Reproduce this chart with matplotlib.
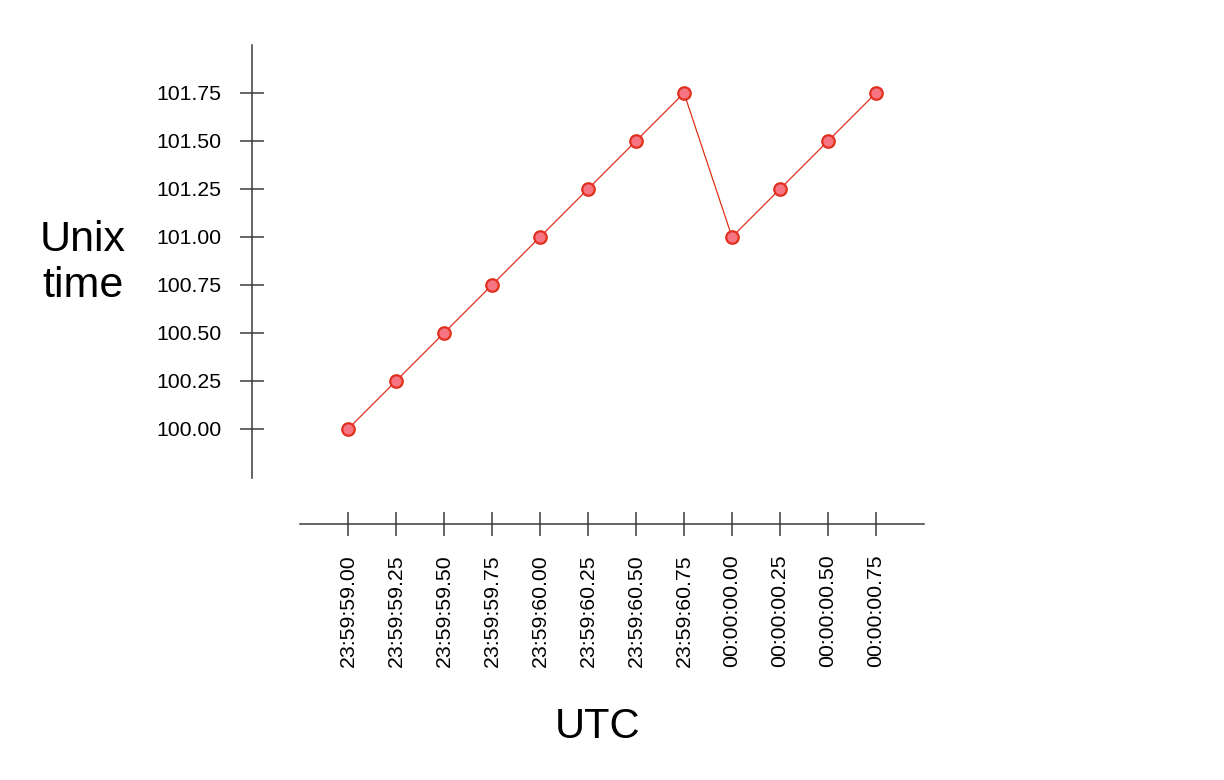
import matplotlib
matplotlib.use('Agg')
import matplotlib.pyplot as plt

utc_labels = ['23:59:59.00', '23:59:59.25', '23:59:59.50', '23:59:59.75',
              '23:59:60.00', '23:59:60.25', '23:59:60.50', '23:59:60.75',
              '00:00:00.00', '00:00:00.25', '00:00:00.50', '00:00:00.75']
unix_time = [100.00, 100.25, 100.50, 100.75, 101.00, 101.25, 101.50, 101.75,
             101.00, 101.25, 101.50, 101.75]
y_ticks = [100.00, 100.25, 100.50, 100.75, 101.00, 101.25, 101.50, 101.75]

plt.rcParams['font.family'] = ['Liberation Sans', 'DejaVu Sans']

W, H = 1224, 780
fig = plt.figure(figsize=(W / 100, H / 100), dpi=100)
ax = fig.add_axes([300 / W, 1 - 478 / H, 624 / W, 433 / H])

x = list(range(len(utc_labels)))
ax.plot(x, unix_time, color='#e0301e', lw=0.9, marker='o', markersize=9,
        markerfacecolor='#f77483', markeredgecolor='#e0301e', markeredgewidth=1.6,
        zorder=3)

ax.set_xlim(-1, 12)
ax.set_ylim(100 - 49 / 192, 102)

for s in ['top', 'right']:
    ax.spines[s].set_visible(False)
ax.spines['left'].set_position(('outward', 48 * 0.72))
ax.spines['bottom'].set_position(('outward', 46 * 0.72))
for s in ['left', 'bottom']:
    ax.spines[s].set_color('#3a3a3a')
    ax.spines[s].set_linewidth(1.1)

ax.set_xticks(x)
ax.set_xticklabels(utc_labels, rotation=90, fontsize=15.3)
ax.set_yticks(y_ticks)
ax.set_yticklabels(['%.2f' % v for v in y_ticks], fontsize=15.3)
ax.tick_params(direction='inout', length=17.3, width=1.1, color='#3a3a3a',
               pad=13.5)

fig.text(83 / W, 1 - 263 / H, 'Unix\ntime', fontsize=31, ha='center',
         va='center', linespacing=1.2)
fig.text(598 / W, 1 - 727 / H, 'UTC', fontsize=30, ha='center', va='center')

fig.savefig('out.png', dpi=100)
